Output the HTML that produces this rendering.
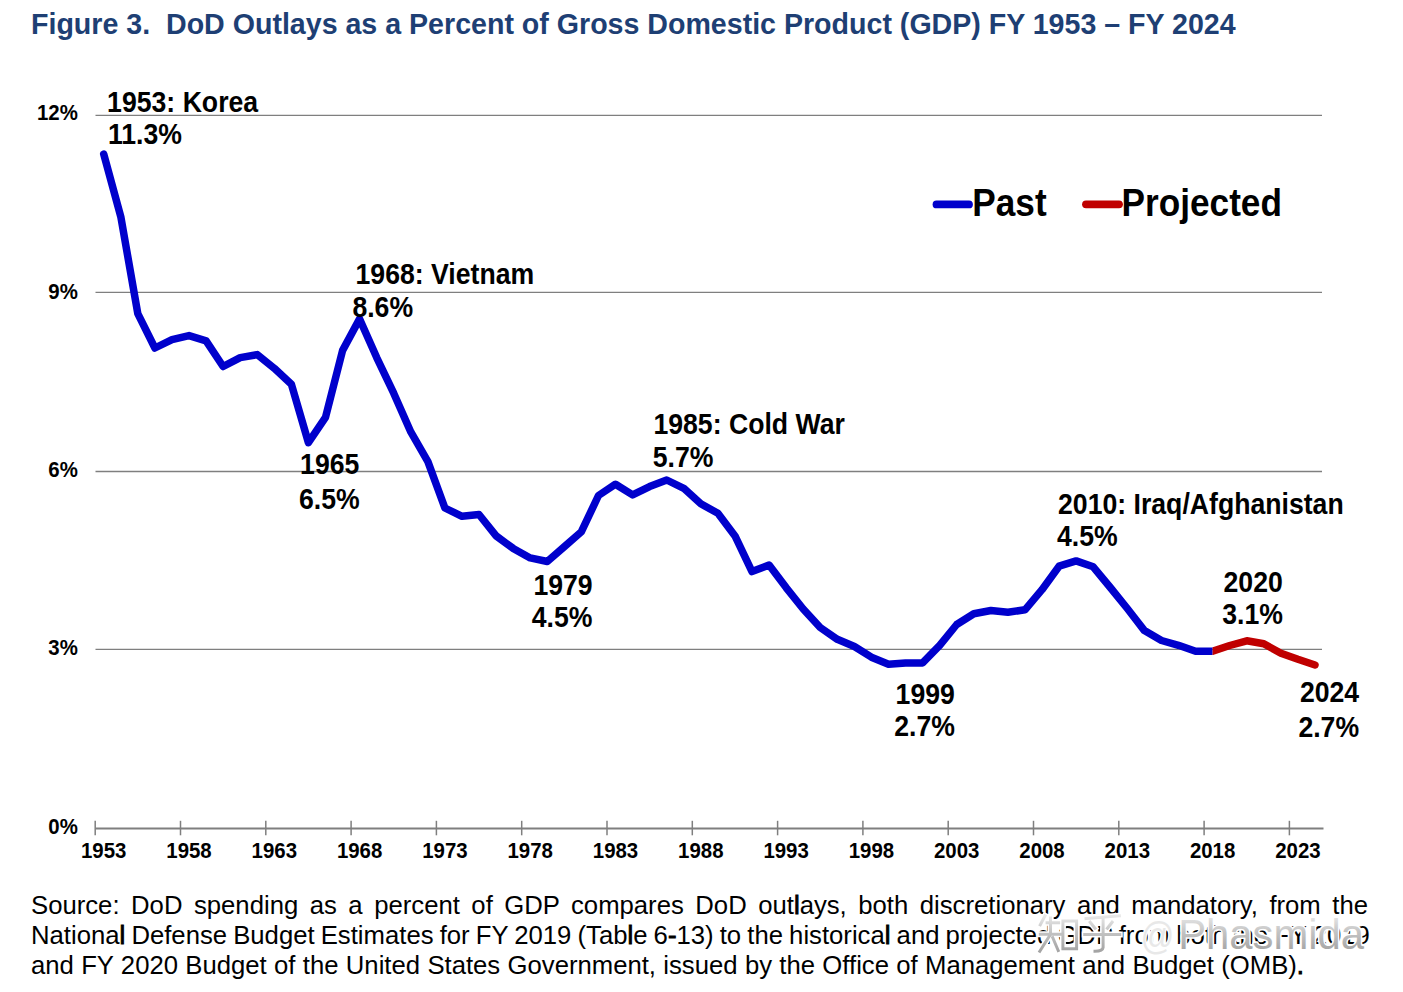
<!DOCTYPE html>
<html><head><meta charset="utf-8">
<style>
html,body{margin:0;padding:0;background:#fff;width:1403px;height:992px;overflow:hidden;}
body{position:relative;font-family:"Liberation Sans",sans-serif;}
svg{position:absolute;left:0;top:0;}
.ax{font-family:"Liberation Sans",sans-serif;font-weight:bold;font-size:20.4px;fill:#000;}
.an{font-family:"Liberation Sans",sans-serif;font-weight:bold;font-size:26.65px;fill:#000;}
.lg{font-family:"Liberation Sans",sans-serif;font-weight:bold;font-size:35.2px;fill:#000;}
.title{font-family:"Liberation Sans",sans-serif;font-weight:bold;font-size:28.6px;fill:#1E3F74;}
.wm{font-family:"Liberation Sans",sans-serif;font-size:41.8px;}
.src{position:absolute;left:31px;width:1337px;font-family:"Liberation Sans",sans-serif;font-size:25.7px;color:#000;white-space:nowrap;line-height:30px;}
.bl{-webkit-text-stroke:0.9px #000;}
.j{text-align:justify;text-align-last:justify;white-space:normal;}
</style></head><body>
<svg width="1403" height="992" viewBox="0 0 1403 992">
<text transform="translate(31,34.2) scale(1,1.03)" class="title" xml:space="preserve">Figure 3.  DoD Outlays as a Percent of Gross Domestic Product (GDP) FY 1953 – FY 2024</text>
<line x1="95.5" y1="115.4" x2="1322" y2="115.4" stroke="#7f7f7f" stroke-width="1.3"/>
<line x1="95.5" y1="292.4" x2="1322" y2="292.4" stroke="#7f7f7f" stroke-width="1.3"/>
<line x1="95.5" y1="471.5" x2="1322" y2="471.5" stroke="#7f7f7f" stroke-width="1.3"/>
<line x1="95.5" y1="649.4" x2="1322" y2="649.4" stroke="#7f7f7f" stroke-width="1.3"/>

<line x1="95.2" y1="828.4" x2="1323.5" y2="828.4" stroke="#7f7f7f" stroke-width="2"/>
<line x1="95.2" y1="820.8" x2="95.2" y2="835.3" stroke="#7f7f7f" stroke-width="1.5"/>
<line x1="180.5" y1="820.8" x2="180.5" y2="835.3" stroke="#7f7f7f" stroke-width="1.5"/>
<line x1="265.8" y1="820.8" x2="265.8" y2="835.3" stroke="#7f7f7f" stroke-width="1.5"/>
<line x1="351.1" y1="820.8" x2="351.1" y2="835.3" stroke="#7f7f7f" stroke-width="1.5"/>
<line x1="436.4" y1="820.8" x2="436.4" y2="835.3" stroke="#7f7f7f" stroke-width="1.5"/>
<line x1="521.7" y1="820.8" x2="521.7" y2="835.3" stroke="#7f7f7f" stroke-width="1.5"/>
<line x1="607.0" y1="820.8" x2="607.0" y2="835.3" stroke="#7f7f7f" stroke-width="1.5"/>
<line x1="692.3" y1="820.8" x2="692.3" y2="835.3" stroke="#7f7f7f" stroke-width="1.5"/>
<line x1="777.6" y1="820.8" x2="777.6" y2="835.3" stroke="#7f7f7f" stroke-width="1.5"/>
<line x1="862.9" y1="820.8" x2="862.9" y2="835.3" stroke="#7f7f7f" stroke-width="1.5"/>
<line x1="948.2" y1="820.8" x2="948.2" y2="835.3" stroke="#7f7f7f" stroke-width="1.5"/>
<line x1="1033.5" y1="820.8" x2="1033.5" y2="835.3" stroke="#7f7f7f" stroke-width="1.5"/>
<line x1="1118.8" y1="820.8" x2="1118.8" y2="835.3" stroke="#7f7f7f" stroke-width="1.5"/>
<line x1="1204.1" y1="820.8" x2="1204.1" y2="835.3" stroke="#7f7f7f" stroke-width="1.5"/>
<line x1="1289.4" y1="820.8" x2="1289.4" y2="835.3" stroke="#7f7f7f" stroke-width="1.5"/>

<text transform="translate(77.8,120.4) scale(1,1.06)" class="ax" text-anchor="end">12%</text>
<text transform="translate(77.8,298.7) scale(1,1.06)" class="ax" text-anchor="end">9%</text>
<text transform="translate(77.8,477.1) scale(1,1.06)" class="ax" text-anchor="end">6%</text>
<text transform="translate(77.8,655.4) scale(1,1.06)" class="ax" text-anchor="end">3%</text>
<text transform="translate(77.8,833.8) scale(1,1.06)" class="ax" text-anchor="end">0%</text>

<text transform="translate(103.7,858.3) scale(1,1.06)" class="ax" text-anchor="middle">1953</text>
<text transform="translate(189.0,858.3) scale(1,1.06)" class="ax" text-anchor="middle">1958</text>
<text transform="translate(274.3,858.3) scale(1,1.06)" class="ax" text-anchor="middle">1963</text>
<text transform="translate(359.6,858.3) scale(1,1.06)" class="ax" text-anchor="middle">1968</text>
<text transform="translate(444.9,858.3) scale(1,1.06)" class="ax" text-anchor="middle">1973</text>
<text transform="translate(530.2,858.3) scale(1,1.06)" class="ax" text-anchor="middle">1978</text>
<text transform="translate(615.5,858.3) scale(1,1.06)" class="ax" text-anchor="middle">1983</text>
<text transform="translate(700.8,858.3) scale(1,1.06)" class="ax" text-anchor="middle">1988</text>
<text transform="translate(786.1,858.3) scale(1,1.06)" class="ax" text-anchor="middle">1993</text>
<text transform="translate(871.4,858.3) scale(1,1.06)" class="ax" text-anchor="middle">1998</text>
<text transform="translate(956.7,858.3) scale(1,1.06)" class="ax" text-anchor="middle">2003</text>
<text transform="translate(1042.0,858.3) scale(1,1.06)" class="ax" text-anchor="middle">2008</text>
<text transform="translate(1127.3,858.3) scale(1,1.06)" class="ax" text-anchor="middle">2013</text>
<text transform="translate(1212.6,858.3) scale(1,1.06)" class="ax" text-anchor="middle">2018</text>
<text transform="translate(1297.9,858.3) scale(1,1.06)" class="ax" text-anchor="middle">2023</text>

<clipPath id="cb"><rect x="0" y="0" width="1212.6" height="992"/></clipPath>
<clipPath id="cr"><rect x="1212.6" y="0" width="400" height="992"/></clipPath>
<polyline points="103.7,154.0 120.8,216.7 137.8,313.6 154.9,348.0 172.0,339.7 189.0,335.6 206.1,340.9 223.1,366.5 240.2,357.6 257.3,354.6 274.3,368.3 291.4,384.3 308.4,442.6 325.5,417.4 342.6,350.4 359.6,318.9 376.7,357.6 393.7,393.2 410.8,431.9 427.9,461.6 444.9,508.0 462.0,516.3 479.0,514.5 496.1,535.9 513.2,548.4 530.2,557.9 547.3,561.5 564.4,546.6 581.4,531.7 598.5,495.5 615.5,484.2 632.6,494.9 649.6,486.6 666.7,480.0 683.8,488.3 700.8,503.8 717.9,513.3 735.0,535.9 752.0,571.6 769.1,565.0 786.1,587.6 803.2,609.0 820.2,627.5 837.3,639.3 854.4,646.5 871.4,657.2 888.5,664.3 905.5,662.9 922.6,662.9 939.7,645.3 956.7,624.5 973.8,613.8 990.9,610.5 1007.9,612.3 1025.0,609.8 1042.0,589.7 1059.1,566.2 1076.1,560.9 1093.2,566.8 1110.3,587.5 1127.3,608.5 1144.4,630.6 1161.5,640.5 1178.5,645.3 1195.6,651.2 1212.6,651.2 1229.7,645.5" fill="none" stroke="#0000CC" stroke-width="7.5" stroke-linejoin="round" stroke-linecap="round" clip-path="url(#cb)"/>
<polyline points="1195.6,651.2 1212.6,651.2 1229.7,645.5 1246.8,640.8 1263.8,643.8 1280.9,653.2 1297.9,659.3 1315.0,665.0" fill="none" stroke="#C00000" stroke-width="7.5" stroke-linejoin="round" stroke-linecap="round" clip-path="url(#cr)"/>
<text transform="translate(107.1,111.7) scale(1,1.075)" class="an">1953: Korea</text>
<text transform="translate(107.9,144.0) scale(1,1.075)" class="an">11.3%</text>
<text transform="translate(355.5,284.0) scale(1,1.075)" class="an">1968: Vietnam</text>
<text transform="translate(352.4,316.5) scale(1,1.075)" class="an">8.6%</text>
<text transform="translate(300.1,473.5) scale(1,1.075)" class="an">1965</text>
<text transform="translate(299.0,509.0) scale(1,1.075)" class="an">6.5%</text>
<text transform="translate(533.4,594.7) scale(1,1.075)" class="an">1979</text>
<text transform="translate(531.7,626.9) scale(1,1.075)" class="an">4.5%</text>
<text transform="translate(653.4,433.7) scale(1,1.075)" class="an">1985: Cold War</text>
<text transform="translate(652.7,466.6) scale(1,1.075)" class="an">5.7%</text>
<text transform="translate(895.6,703.5) scale(1,1.075)" class="an">1999</text>
<text transform="translate(894.2,735.7) scale(1,1.075)" class="an">2.7%</text>
<text transform="translate(1058.0,514.2) scale(1,1.075)" class="an">2010: Iraq/Afghanistan</text>
<text transform="translate(1057.0,545.9) scale(1,1.075)" class="an">4.5%</text>
<text transform="translate(1223.5,591.6) scale(1,1.075)" class="an">2020</text>
<text transform="translate(1222.3,624.2) scale(1,1.075)" class="an">3.1%</text>
<text transform="translate(1299.9,701.7) scale(1,1.075)" class="an">2024</text>
<text transform="translate(1298.4,737.1) scale(1,1.075)" class="an">2.7%</text>

<line x1="936.5" y1="204.4" x2="969" y2="204.4" stroke="#0000CC" stroke-width="7.8" stroke-linecap="round"/>
<text transform="translate(972.3,215.7) scale(1,1.09)" class="lg">Past</text>

<line x1="1086" y1="204.3" x2="1119" y2="204.3" stroke="#C00000" stroke-width="7.8" stroke-linecap="round"/>
<text transform="translate(1121.6,215.8) scale(1,1.09)" class="lg">Projected</text>

</svg>
<div class="src j" style="top:890.3px;">Source: DoD spending as a percent of GDP compares DoD out<span class="bl">l</span>ays, both discretionary and mandatory, from the</div>
<div class="src" style="top:919.8px;word-spacing:-1.01px;">Nationa<span class="bl">l</span> Defense Budget Estimates for FY 2019 (Tab<span class="bl">l</span>e 6<span class="bl">-</span>13) to the historica<span class="bl">l</span> and projected GDP from both the FY 2019</div>
<div class="src" style="top:949.5px;word-spacing:0.18px;">and FY 2020 Budget of the United States Government, issued by the Office of Management and Budget (OMB)<span class="bl">.</span></div>
<svg width="1403" height="992" viewBox="0 0 1403 992" style="position:absolute;left:0;top:0;"><defs><linearGradient id="wmg" gradientUnits="userSpaceOnUse" x1="0" y1="916" x2="0" y2="951"><stop offset="0" stop-color="#e8e8e8"/><stop offset="0.45" stop-color="#c4c4c4"/><stop offset="1" stop-color="#a4a4a4"/></linearGradient></defs><g transform="translate(0,0)">
<path d="M1045,915.8 L1040.3,924.8 M1047.1,922.7 L1058.7,922.7 M1040.3,934.2 L1061.2,934.2 M1050.5,918 L1050.5,934.2 L1039.8,951.3 M1052.7,937.6 L1058.2,950.5 M1062.9,921 L1076.6,921 L1076.6,948.8 L1062.9,948.8 Z M1119.4,915.8 L1086,918.6 M1090.2,922.2 L1095,928.2 M1112.1,922.2 L1107.4,928.2 M1084.7,934.6 L1119.8,934.6 M1103.1,918.4 L1103.1,947.5 Q1102.6,951.3 1095,951.3" fill="none" stroke="#ffffff" stroke-width="6.0" stroke-linecap="square" stroke-linejoin="miter"/>
<text class="wm" fill="#ffffff" transform="translate(1140.5,948.5) scale(0.8,0.93)" stroke="#ffffff" stroke-width="3.0" stroke-linejoin="round">@</text>
<text class="wm" fill="#ffffff" x="1178.2" y="948.5" stroke="#ffffff" stroke-width="3.0" stroke-linejoin="round">Phasmida</text>
</g><g transform="translate(0,0)">
<path d="M1045,915.8 L1040.3,924.8 M1047.1,922.7 L1058.7,922.7 M1040.3,934.2 L1061.2,934.2 M1050.5,918 L1050.5,934.2 L1039.8,951.3 M1052.7,937.6 L1058.2,950.5 M1062.9,921 L1076.6,921 L1076.6,948.8 L1062.9,948.8 Z M1119.4,915.8 L1086,918.6 M1090.2,922.2 L1095,928.2 M1112.1,922.2 L1107.4,928.2 M1084.7,934.6 L1119.8,934.6 M1103.1,918.4 L1103.1,947.5 Q1102.6,951.3 1095,951.3" fill="none" stroke="url(#wmg)" stroke-width="3.0" stroke-linecap="square" stroke-linejoin="miter"/>
<text class="wm" fill="url(#wmg)" transform="translate(1140.5,948.5) scale(0.8,0.93)">@</text>
<text class="wm" fill="url(#wmg)" x="1178.2" y="948.5">Phasmida</text>
</g></svg>
</body></html>
